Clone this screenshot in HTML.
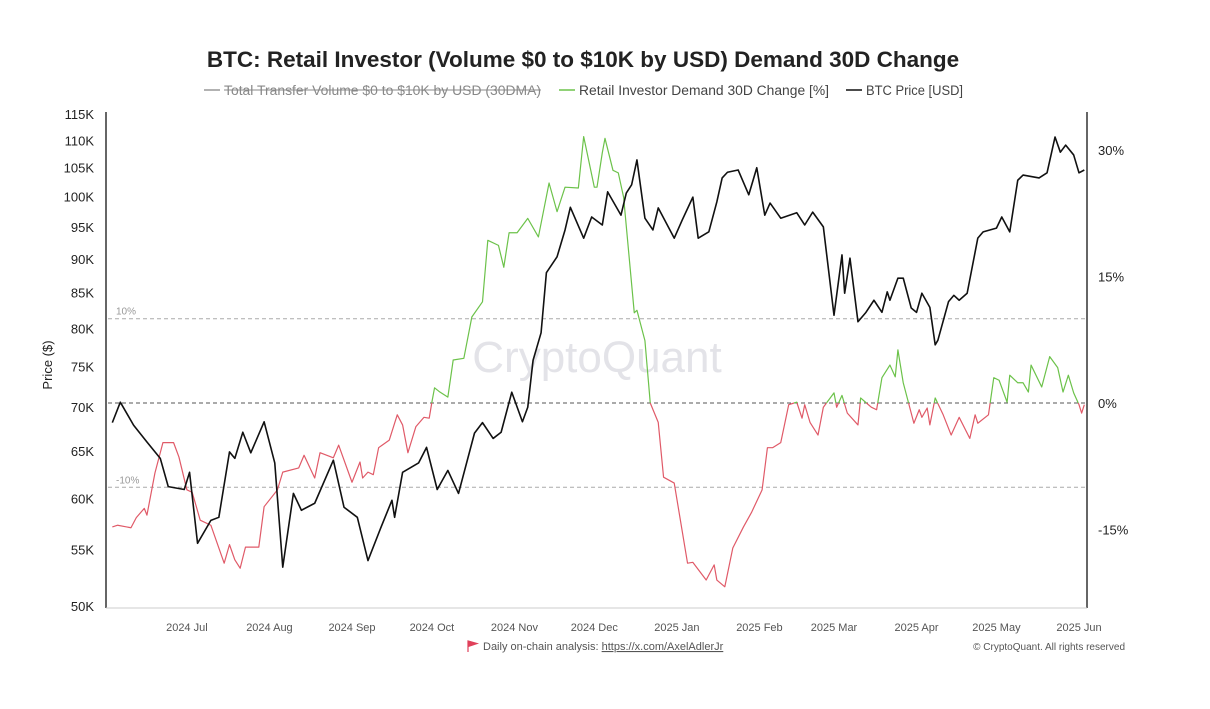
<!DOCTYPE html>
<html><head><meta charset="utf-8">
<style>
body{margin:0;background:#fff;font-family:"Liberation Sans",sans-serif;}
svg{display:block}
</style></head>
<body>
<svg id="chart" width="1210" height="709" viewBox="0 0 1210 709">
<text x="583" y="67" text-anchor="middle" font-size="22.5" font-weight="bold" fill="#222">BTC: Retail Investor (Volume $0 to $10K by USD) Demand 30D Change</text>
<g font-size="13.5" fill="#444">
 <g>
  <line x1="204" y1="90" x2="220" y2="90" stroke="#999" stroke-width="1.5"/>
  <text x="224" y="95" fill="#888" textLength="317" lengthAdjust="spacingAndGlyphs">Total Transfer Volume $0 to $10K by USD (30DMA)</text>
  <line x1="224" y1="90" x2="541" y2="90" stroke="#888" stroke-width="1"/>
 </g>
 <g>
  <line x1="559" y1="90" x2="575" y2="90" stroke="#6cc24a" stroke-width="1.5"/>
  <text x="579" y="95" textLength="250" lengthAdjust="spacingAndGlyphs">Retail Investor Demand 30D Change [%]</text>
 </g>
 <g>
  <line x1="846" y1="90" x2="862" y2="90" stroke="#111" stroke-width="1.5"/>
  <text x="866" y="95" textLength="97" lengthAdjust="spacingAndGlyphs">BTC Price [USD]</text>
 </g>
</g>
<text x="597" y="372" text-anchor="middle" font-size="44" fill="#e3e3e8">CryptoQuant</text>
<g id="axes"></g>
<g id="marks"></g>
<text transform="translate(52,365) rotate(-90)" text-anchor="middle" font-size="13" fill="#222">Price ($)</text>
<g font-size="11" fill="#555">
 <path d="M468 641 L468 652 M468 641 L477 643.5 L468 646.5 Z" stroke="#e0405a" fill="#e0405a" stroke-width="1.2"/>
 <text x="483" y="650">Daily on-chain analysis: <tspan text-decoration="underline">https://x.com/AxelAdlerJr</tspan></text>
 <text x="1125" y="650" text-anchor="end" font-size="10">© CryptoQuant. All rights reserved</text>
</g>
</svg>
<script>
const priceTicks=[50,55,60,65,70,75,80,85,90,95,100,105,110,115];
const pctTicks=[30,15,0,-15];
const refLines=[10,0,-10];
const monthLabels=["2024 Jul","2024 Aug","2024 Sep","2024 Oct","2024 Nov","2024 Dec","2025 Jan","2025 Feb","2025 Mar","2025 Apr","2025 May","2025 Jun"];
const monthDays=[30,61,92,122,153,183,214,245,273,304,334,365];
const priceDays=[2,5,10,15,20,23,29,31,34,39,42,46,48,51,54,59,63,66,70,73,78,85,89,94,98,103,107,108,111,117,120,124,128,132,138,141,145,148,152,156,158,160,163,165,169,172,174,179,182,186,188,193,195,197,199,202,205,207,213,216,220,222,226,229,231,233,237,241,244,247,249,253,259,262,265,269,273,276,277,279,282,285,288,291,293,294,297,299,302,304,306,309,311,312,316,318,320,323,327,329,334,336,339,342,344,350,353,356,358,360,363,365,367];
const priceValues=[68.2,70.6,67.9,66.0,64.2,61.2,60.9,62.7,55.6,57.8,58.1,64.9,64.2,67.1,64.8,68.3,63.7,53.4,60.5,58.8,59.5,64.0,59.1,58.1,54.0,57.2,59.8,58.1,62.7,63.7,65.4,60.9,62.9,60.5,67.0,68.2,66.4,67.1,71.8,68.3,70.0,75.8,79.4,87.9,90.3,94.5,98.2,93.2,96.6,95.3,100.8,96.9,100.6,102.0,106.4,96.4,94.5,98.1,93.2,96.1,99.9,93.2,94.2,99.1,103.2,104.2,104.6,100.3,105.0,96.9,98.9,96.4,97.3,95.3,97.4,95.0,81.8,90.6,84.9,90.1,80.9,82.2,83.9,82.2,85.1,83.9,87.1,87.1,82.8,82.2,84.9,82.9,77.8,78.4,83.7,84.6,83.9,84.9,93.2,94.2,94.8,96.6,94.2,102.8,103.7,103.2,104.1,110.6,107.8,109.1,107.3,104.1,104.6];
const demandDays=[2,4,9,11,14,15,18,21,25,27,30,32,35,39,44,46,48,50,52,57,59,64,66,72,74,78,80,85,87,92,95,96,98,100,102,106,109,111,113,116,119,121,122,123,125,128,130,134,137,141,143,147,149,151,154,158,162,166,169,172,177,179,181,183,184,186,187,190,192,194,198,199,202,204,207,209,213,218,220,225,228,229,232,235,239,242,246,248,250,253,256,259,261,262,264,267,269,273,274,276,278,282,283,287,289,291,294,296,297,299,303,305,306,308,309,311,314,317,320,324,326,327,331,333,335,338,339,342,344,346,347,351,354,357,359,361,363,365,366,367];
const demandValues=[-14.7,-14.5,-14.8,-13.6,-12.5,-13.3,-8.3,-4.7,-4.7,-6.4,-10.3,-10.6,-13.9,-14.5,-19.0,-16.8,-18.6,-19.6,-17.1,-17.1,-12.3,-10.3,-8.2,-7.7,-6.2,-8.9,-5.9,-6.5,-5.0,-9.4,-7.0,-8.9,-8.2,-8.5,-5.3,-4.4,-1.4,-2.6,-5.9,-2.8,-1.7,-1.8,0.1,1.8,1.3,0.7,5.1,5.3,10.2,12.0,19.3,18.7,16.1,20.2,20.2,21.9,19.7,26.1,22.7,25.6,25.5,31.6,28.6,25.6,25.6,29.7,31.4,27.6,27.3,24.4,10.7,11.0,7.4,0,-2.3,-8.8,-9.5,-19.0,-18.9,-21.0,-19.2,-21.0,-21.8,-17.2,-14.7,-13.0,-10.3,-5.3,-5.3,-4.7,-0.2,0.1,-1.8,-0.2,-2.3,-3.8,-0.5,1.2,-0.5,0.9,-1.2,-2.6,0.6,-0.5,-0.8,3.0,4.5,3.1,6.3,2.4,-2.4,-0.8,-1.7,-0.6,-2.6,0.6,-1.4,-3.8,-1.7,-4.2,-1.4,-2.4,-1.4,3.0,2.7,0.1,3.3,2.4,2.4,1.3,4.5,1.9,5.5,4.2,1.3,3.3,1.2,-0.2,-1.2,-0.2];

const NS="http://www.w3.org/2000/svg";
const L=106,R=1087,T=112,B=608;
const xScale=d=>107+d*2.663;
const yPrice=v=>606-590.7*Math.log(v/50);
const yPct=v=>403-8.43*v;
function mk(tag,attrs,parent){const e=document.createElementNS(NS,tag);for(const k in attrs)e.setAttribute(k,attrs[k]);parent.appendChild(e);return e;}
const axes=document.getElementById('axes'),marks=document.getElementById('marks');

let e=mk('line',{x1:L,y1:T,x2:L,y2:B,stroke:'#333','stroke-width':1.5},axes);


e=mk('line',{x1:R,y1:T,x2:R,y2:B,stroke:'#333','stroke-width':1.5},axes);


e=mk('line',{x1:L,y1:B,x2:R,y2:B,stroke:'#ccc','stroke-width':1},axes);



priceTicks.forEach(v=>{
 const t=mk('text',{x:94,y:yPrice(v)+5,'text-anchor':'end','font-size':13,fill:'#222'},axes);
 t.textContent=v+'K';
 
 
});
pctTicks.forEach(v=>{
 const t=mk('text',{x:1098,y:yPct(v)+5,'font-size':13,fill:'#222'},axes);
 t.textContent=v+'%';
 
 
});
refLines.forEach(v=>{
 const l=mk('line',{x1:L+2,x2:R-2,y1:yPct(v),y2:yPct(v),stroke:v===0?'#555':'#aaa','stroke-width':1,'stroke-dasharray':'4,3'},axes);
 
 
 if(v!==0){const t=mk('text',{x:116,y:yPct(v)-4,'font-size':10,fill:'#999'},axes);
  t.textContent=v+'%';
  
  }
});
monthLabels.forEach((m,i)=>{
 const t=mk('text',{x:xScale(monthDays[i]),y:631,'text-anchor':'middle','font-size':11,fill:'#555'},axes);
 t.textContent=m;
 
 
});

let seg=[],segPos=null;
function flush(){if(seg.length>1){const p=mk('polyline',{points:seg.map(q=>q.join(',')).join(' '),fill:'none',stroke:segPos?'#6cc24a':'#e05a68','stroke-width':1.2,'stroke-linejoin':'round'},marks);
 
 }}
for(let i=0;i<demandValues.length;i++){
 const v=demandValues[i],pos=v>=0;
 const pt=[xScale(demandDays[i]),yPct(v)];
 if(segPos===null){segPos=pos;seg=[pt];continue;}
 if(pos!==segPos){
  const v0=demandValues[i-1],d0=demandDays[i-1],f=v0/(v0-v);
  const cx=[xScale(d0+(demandDays[i]-d0)*f),yPct(0)];
  seg.push(cx);flush();segPos=pos;seg=[cx,pt];
 } else seg.push(pt);
}
flush();

const pl=mk('polyline',{points:priceValues.map((v,i)=>xScale(priceDays[i])+','+yPrice(v)).join(' '),fill:'none',stroke:'#111','stroke-width':1.6,'stroke-linejoin':'round'},marks);


</script>
</body></html>
